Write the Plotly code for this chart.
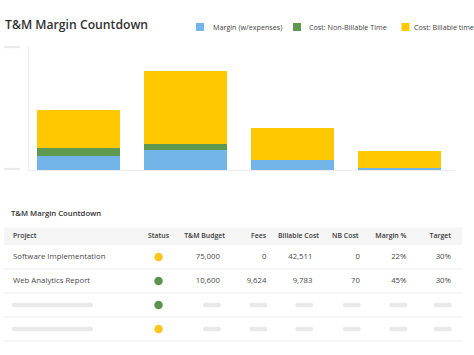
import plotly.graph_objects as go

# ---------------- data ----------------
categories = ["Project 1", "Project 2", "Project 3", "Project 4"]
series_names = ["Margin (w/expenses)", "Cost: Non-Billable Time", "Cost: Billable time"]
margin_vals = [14, 20, 10, 2]        # Margin (w/expenses)
nonbill_vals = [8, 6, 0, 0]          # Cost: Non-Billable Time
bill_vals = [38, 73, 32, 17]         # Cost: Billable time

table_headers = ["Project", "Status", "T&M Budget", "Fees", "Billable Cost",
                 "NB Cost", "Margin %", "Target"]
projects = ["Software Implementation", "Web Analytics Report", None, None]
status = ["At Risk", "On Track", "On Track", "At Risk"]
budget = [75000, 10600, None, None]
fees = [0, 9624, None, None]
billable_cost = [42511, 9783, None, None]
nb_cost = [0, 70, None, None]
margin_pct = [22, 45, None, None]
target_pct = [30, 30, None, None]

# ---------------- styles / layout constants ----------------
W, H = 474, 355
FONT = "Open Sans"
SERIES_COLORS = ["#74B5E9", "#5E9950", "#FFC800"]
STATUS_COLORS = {"At Risk": "#FFC61A", "On Track": "#5C9150"}
PILL = "#E9E9E9"
LINE = "#EDEDED"
LEGEND_SQ_X = [196, 293, 401.5]
LEGEND_TXT_X = [210.5, 306.5, 412.3]
LEGEND_Y = 27


def py(p):  # pixel-from-top -> paper y
    return (H - p) / H


fig = go.Figure()

# ---------------- stacked bar chart ----------------
for name, vals, col in zip(series_names, [margin_vals, nonbill_vals, bill_vals],
                           SERIES_COLORS):
    fig.add_trace(go.Bar(x=categories, y=vals, name=name, marker_color=col,
                         marker_line_width=0, width=0.78, hoverinfo="skip",
                         showlegend=False))

# ---------------- table (x2 = pixels, y2 = row index) ----------------
ROW0, ROWH = 257, 24.0


def ry(p):
    return (p - ROW0) / ROWH


n = len(projects)
rows = list(range(n))
HEADER_Y = ry(236.5)


def fmt_num(v):
    return "" if v is None else f"{v:,}"


def fmt_pct(v):
    return "" if v is None else f"{v}%"


# column: (header, values, header anchor x, value anchor x)
num_cols = [
    ("T&M Budget", [fmt_num(v) for v in budget], 225, 220),
    ("Fees", [fmt_num(v) for v in fees], 266, 266.5),
    ("Billable Cost", [fmt_num(v) for v in billable_cost], 319, 312.5),
    ("NB Cost", [fmt_num(v) for v in nb_cost], 358.5, 360),
    ("Margin %", [fmt_pct(v) for v in margin_pct], 406.5, 406.5),
    ("Target", [fmt_pct(v) for v in target_pct], 451, 451),
]
PROJ_X, STATUS_X = 13, 158.5

tfont = dict(family=FONT, size=7.8, color="#4A4A4A")
hfont = dict(family=FONT, size=6.9, color="#3A3A3A", weight=600)

# header labels
hx = [PROJ_X, STATUS_X] + [c[2] for c in num_cols]
hpos = ["middle right", "middle center"] + ["middle left"] * len(num_cols)
fig.add_trace(go.Scatter(x=hx, y=[HEADER_Y] * len(hx), mode="text",
                         text=table_headers, textposition=hpos, textfont=hfont,
                         xaxis="x2", yaxis="y2", showlegend=False, hoverinfo="skip"))

# project names
fig.add_trace(go.Scatter(x=[PROJ_X] * n, y=rows, mode="text",
                         text=[p or "" for p in projects], textposition="middle right",
                         textfont=tfont, xaxis="x2", yaxis="y2",
                         showlegend=False, hoverinfo="skip"))
# status dots
fig.add_trace(go.Scatter(x=[STATUS_X] * n, y=rows, mode="markers",
                         marker=dict(size=8.5, color=[STATUS_COLORS[s] for s in status],
                                     line_width=0),
                         xaxis="x2", yaxis="y2", showlegend=False, hoverinfo="skip"))
# numeric columns
for hdr, vals, _, vx in num_cols:
    fig.add_trace(go.Scatter(x=[vx] * n, y=rows, mode="text", text=vals,
                             textposition="middle left", textfont=tfont,
                             xaxis="x2", yaxis="y2", showlegend=False, hoverinfo="skip"))

# placeholder pills for rows without readable data
px_, py_ = [], []
for r in rows:
    if projects[r] is None:
        px_ += [PROJ_X + 1, 91, None]
        py_ += [r, r, None]
        for _, _, _, vx in num_cols:
            px_ += [vx - 15, vx - 1.5, None]
            py_ += [r, r, None]
fig.add_trace(go.Scatter(x=px_, y=py_, mode="lines+markers",
                         line=dict(color=PILL, width=4.5),
                         marker=dict(color=PILL, size=4.5),
                         xaxis="x2", yaxis="y2", showlegend=False, hoverinfo="skip"))

shapes = []
annotations = []
# header background
shapes.append(dict(type="rect", xref="x2", yref="y2", x0=4, x1=462,
                   y0=ry(227.5), y1=ry(245), fillcolor="#F5F5F5",
                   line_width=0, layer="below"))
# row separators
for r in rows:
    shapes.append(dict(type="line", xref="x2", yref="y2", x0=4, x1=462,
                       y0=r + 0.5, y1=r + 0.5, line=dict(color=LINE, width=1),
                       layer="below"))
# placeholder y tick labels of the bar chart
for v in [0, 124]:
    shapes.append(dict(type="rect", xref="paper", yref="y", x0=4 / W, x1=20 / W,
                       y0=v - 2.2, y1=v + 2.2, fillcolor=PILL, line_width=0))

# legend (drawn by hand to match compact swatches)
for name, col, sx, tx in zip(series_names, SERIES_COLORS, LEGEND_SQ_X, LEGEND_TXT_X):
    shapes.append(dict(type="rect", xref="paper", yref="paper",
                       x0=sx / W, x1=(sx + 8) / W,
                       y0=py(LEGEND_Y + 4), y1=py(LEGEND_Y - 4),
                       fillcolor=col, line_width=0))
    annotations.append(dict(text=name, xref="paper", yref="paper",
                            x=tx / W, y=py(LEGEND_Y), xanchor="left", yanchor="middle",
                            showarrow=False,
                            font=dict(family=FONT, size=7.2, color="#444")))

# chart title and table title
annotations.append(dict(text="T&M Margin Countdown", xref="paper", yref="paper",
                        x=3 / W, y=py(24), xanchor="left", yanchor="middle",
                        showarrow=False,
                        font=dict(family=FONT, size=12.2, color="#333333", weight=600)))
annotations.append(dict(text="T&M Margin Countdown", xref="x2", yref="y2",
                        x=9, y=ry(213), xanchor="left", yanchor="middle",
                        showarrow=False,
                        font=dict(family=FONT, size=7.7, color="#333", weight=600)))

fig.update_layout(
    width=W, height=H, autosize=False,
    margin=dict(l=0, r=0, t=0, b=0),
    paper_bgcolor="white", plot_bgcolor="rgba(0,0,0,0)",
    barmode="stack", bargap=0.22, showlegend=False,
    font=dict(family=FONT, color="#333"),
    xaxis=dict(domain=[29 / W, 455 / W], range=[-0.463, 3.52],
               showticklabels=False, showgrid=False, zeroline=False,
               showline=True, linecolor=LINE, linewidth=1, ticks=""),
    yaxis=dict(domain=[py(170), py(46)], range=[0, 124],
               showticklabels=False, showgrid=False, zeroline=False,
               showline=True, linecolor=LINE, linewidth=1, ticks=""),
    xaxis2=dict(domain=[0, 1], range=[0, W], visible=False, anchor="y2"),
    yaxis2=dict(domain=[0, 1], range=[ry(H), ry(0)], visible=False, anchor="x2"),
    shapes=shapes,
    annotations=annotations,
    hovermode=False,
)

fig.write_html("out.html",
               config={"displayModeBar": False, "staticPlot": True},
               post_script="document.body.style.margin='0';"
                           "document.body.style.overflow='hidden';")
